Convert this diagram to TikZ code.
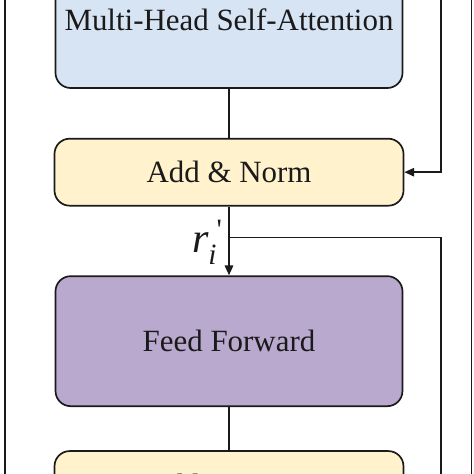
\documentclass[tikz,border=0pt]{standalone}
\usepackage{amsmath}
\usepackage{fontspec}
\setmainfont{Liberation Serif}
\usetikzlibrary{arrows.meta, positioning, calc}

\definecolor{azul}{HTML}{D7E4F4}
\definecolor{amarillo}{HTML}{FFF2CC}
\definecolor{morado}{HTML}{BAA9CF}
\definecolor{tinta}{HTML}{1A1A1A}

\begin{document}
\begin{tikzpicture}[node distance=1.2cm, align=center,
    caja/.style={draw=tinta, line width=1.2pt, rectangle, rounded corners=0.38cm,
      font=\fontsize{22}{26}\selectfont, text=tinta},
    linea/.style={draw=tinta, line width=1.1pt},
    flecha/.style={linea, -{Triangle[length=7pt, width=6pt]}}]
    \clip (0,0) rectangle (11.85,-11.85);

    % marco exterior
    \draw[linea, line width=1.2pt] (0.12,0.2) -- (0.12,-12.1);
    \draw[linea, line width=1.2pt] (11.79,0.2) -- (11.79,-12.1);

    \node [caja, fill=azul, minimum width=8.675cm, minimum height=3.4cm] at (5.725,-0.5) (atencion)
      {Multi-Head Self-Attention};

    \node [caja, fill=amarillo, minimum width=8.725cm, minimum height=1.675cm, below=1.225cm of atencion] (suma)
      {Add \& Norm};

    \node [caja, fill=morado, minimum width=8.675cm, minimum height=3.25cm, below=1.72cm of suma] (avance)
      {Feed Forward};

    \node [caja, fill=amarillo, minimum width=8.725cm, minimum height=1.675cm, below=1.08cm of avance] (suma2)
      {Add \& Norm};

    \coordinate (atajo) at (11.025,0.3);
    \coordinate (desvio) at ($(suma.south)+(0,-0.775)$);
    \coordinate (atajo2) at (11.025,-12.2);

    \draw[linea] (atencion) -- (suma);
    \draw[flecha] (atajo) |- (suma.east);
    \draw[flecha] (suma) -- node[left, inner sep=4pt, yshift=-1pt, text=tinta]
      {\fontsize{30}{30}\selectfont$\textit{r}_{\textit{i}}^{\;\text{\textquotesingle}}$} (avance);
    \draw[linea] (desvio) -| (atajo2);
    \draw[linea] (avance) -- (suma2);
  \end{tikzpicture}
\end{document}
